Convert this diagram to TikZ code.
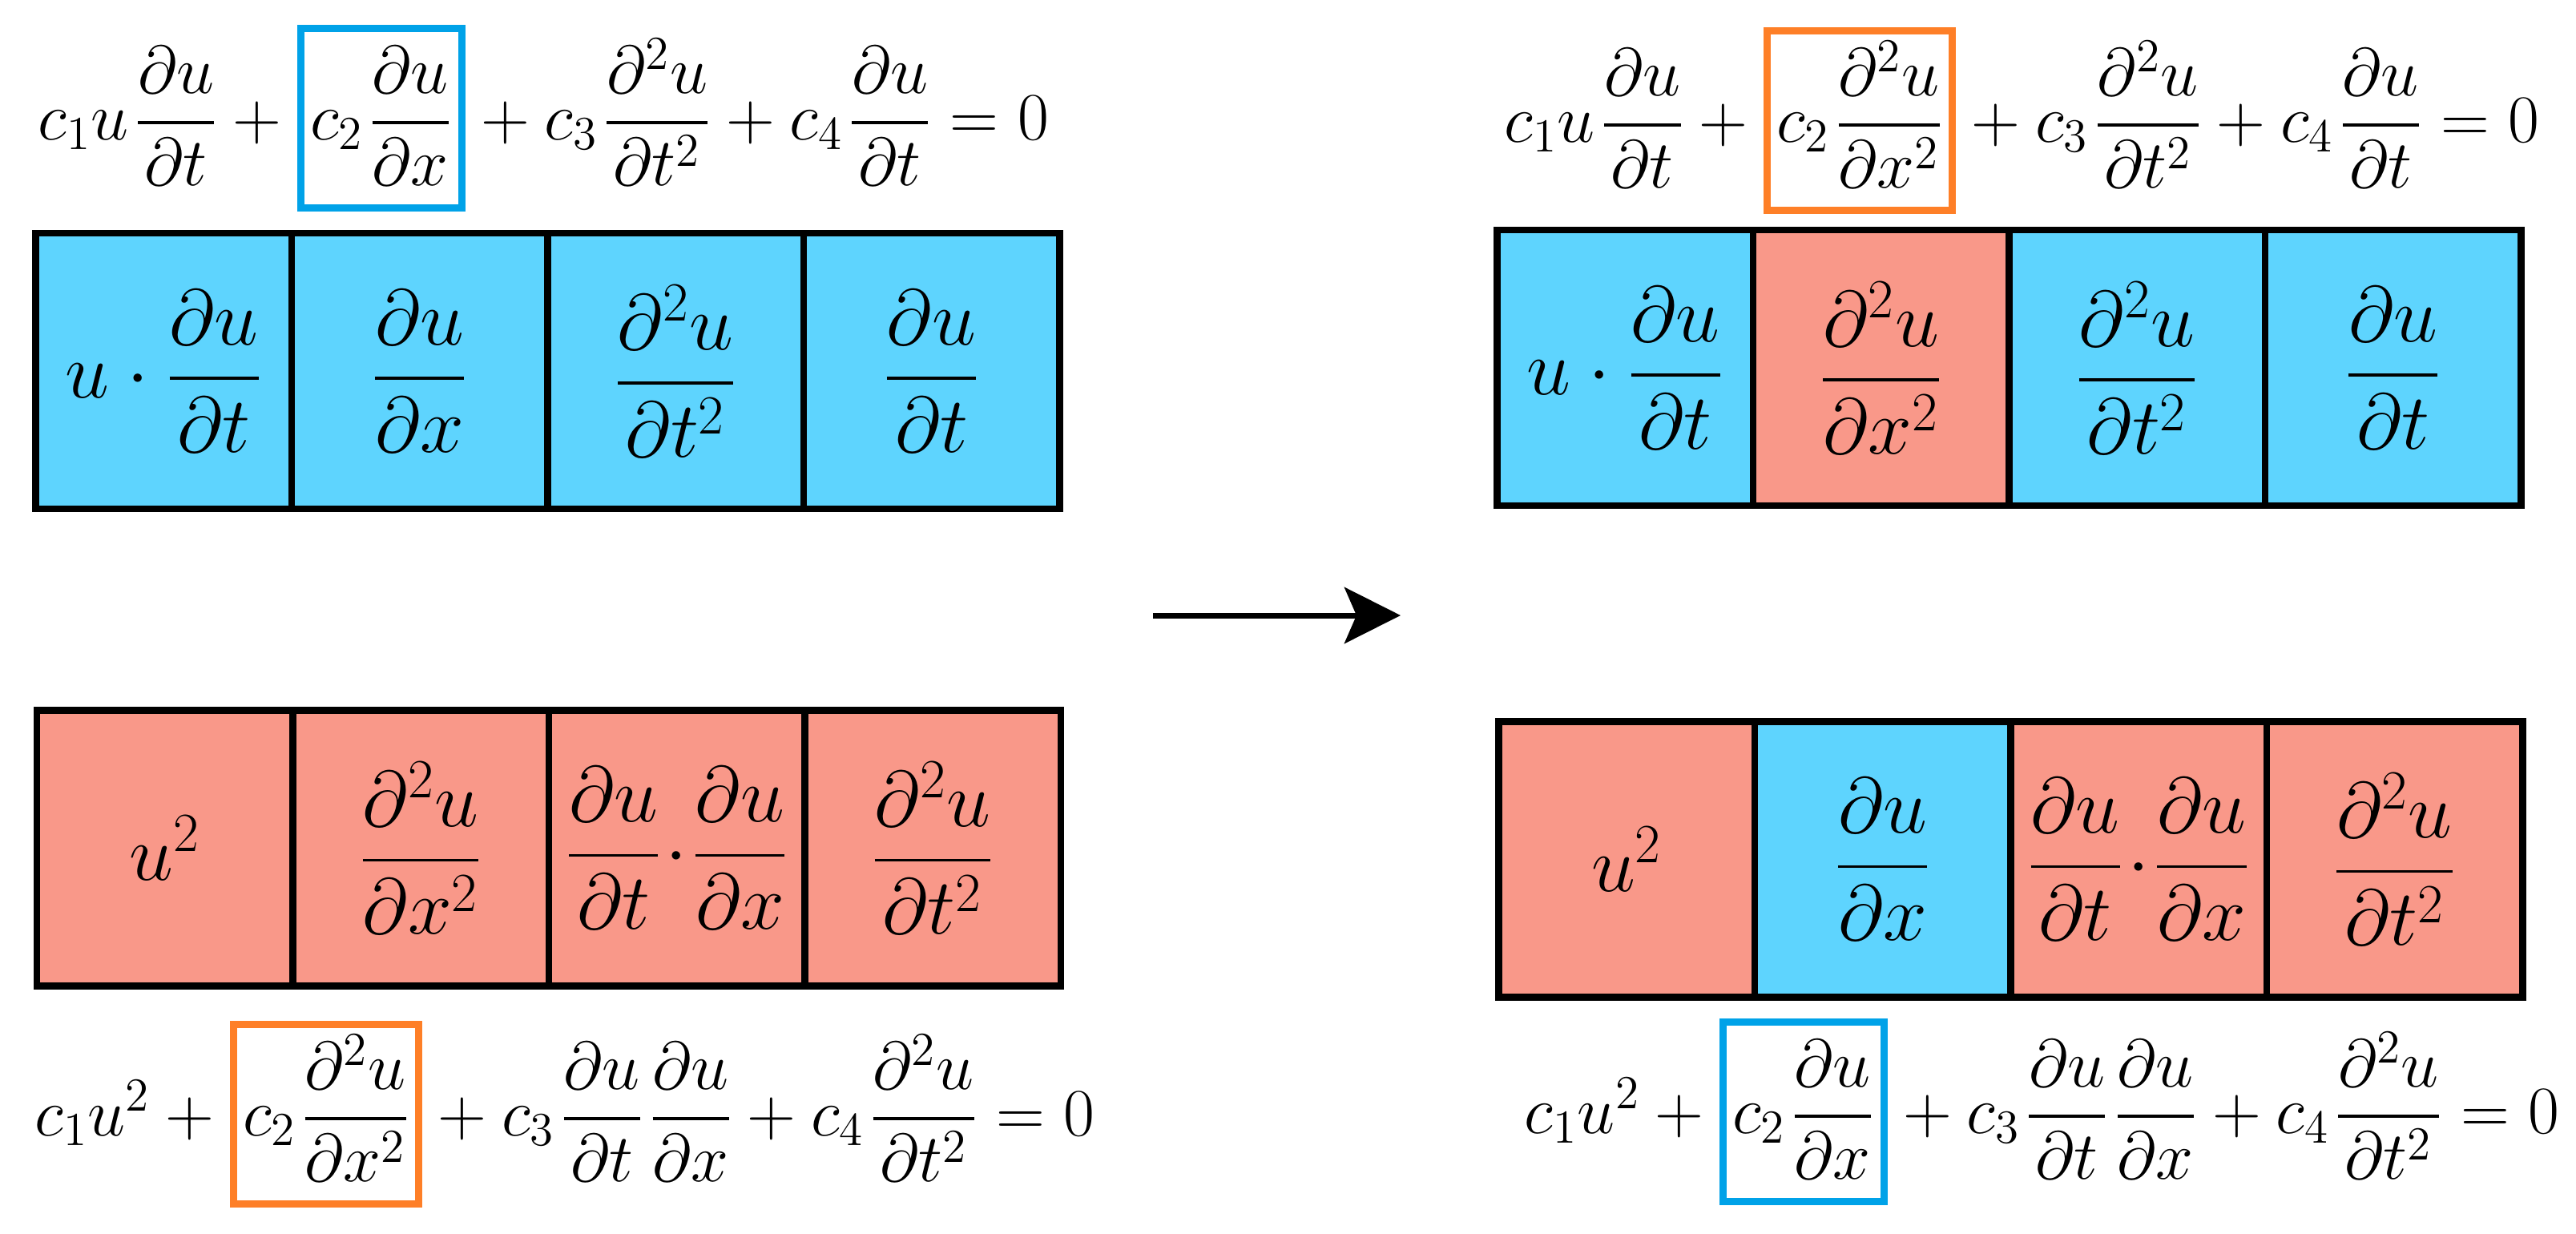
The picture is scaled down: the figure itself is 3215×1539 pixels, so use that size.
\RequirePackage{fix-cm}
\documentclass[tikz,border=0pt]{standalone}
\usepackage{amsmath}
\usetikzlibrary{arrows.meta,positioning}
\definecolor{cellblue}{RGB}{94,212,254}
\definecolor{cellred}{RGB}{249,152,137}
\definecolor{boxblue}{RGB}{0,162,232}
\definecolor{boxorange}{RGB}{254,127,39}
\newcommand{\pd}{\partial}
\newcommand{\kgap}{\mskip1.5mu}
\begin{document}
\begin{tikzpicture}[x=0.01cm,y=-0.01cm,
  cell/.style={draw=black, line width=0.085cm, minimum width=3.1925cm, minimum height=3.44cm,
    inner sep=0pt, outer sep=0pt, font=\fontsize{28}{34}\selectfont},
  bluecell/.style={cell, fill=cellblue},
  redcell/.style={cell, fill=cellred},
  eq/.style={inner sep=0pt, font=\fontsize{24}{30}\selectfont},
  hl/.style={eq, line width=0.09cm, inner xsep=0.12cm, inner ysep=0pt,
    text height=1.38cm, text depth=0.85cm},
  arrowline/.style={line width=0.07cm, -{Stealth[length=0.7cm,width=0.7cm,inset=0.15cm]}}
]
\useasboundingbox (0,0) rectangle (3215,1539);

% ---------- top left ----------
\node[eq, anchor=base west] (tlA) at (47,174) {$c_1u\kgap\dfrac{\pd u}{\pd t}+{}$};
\node[hl, draw=boxblue, anchor=base west] (tlB) at (tlA.base east) {$c_2\kgap\dfrac{\pd u}{\pd x}$};
\node[eq, anchor=base west] (tlC) at (tlB.base east) {${}+c_3\kgap\dfrac{\pd^2u}{\pd t^2}+c_4\kgap\dfrac{\pd u}{\pd t}=0$};

\node[bluecell, anchor=west] (tl1) at (44.5,463) {$u\cdot\dfrac{\pd u}{\pd t}$};
\node[bluecell, right=0pt of tl1] (tl2) {$\dfrac{\pd u}{\pd x}$};
\node[bluecell, right=0pt of tl2] (tl3) {$\dfrac{\pd^2u}{\pd t^2}$};
\node[bluecell, right=0pt of tl3] (tl4) {$\dfrac{\pd u}{\pd t}$};

% ---------- top right ----------
\node[eq, anchor=base west] (trA) at (1877,177) {$c_1u\kgap\dfrac{\pd u}{\pd t}+{}$};
\node[hl, draw=boxorange, anchor=base west] (trB) at (trA.base east) {$c_2\kgap\dfrac{\pd^2u}{\pd x^2}$};
\node[eq, anchor=base west] (trC) at (trB.base east) {${}+c_3\kgap\dfrac{\pd^2u}{\pd t^2}+c_4\kgap\dfrac{\pd u}{\pd t}=0$};

\node[bluecell, anchor=west] (tr1) at (1868.5,459) {$u\cdot\dfrac{\pd u}{\pd t}$};
\node[redcell, right=0pt of tr1] (tr2) {$\dfrac{\pd^2u}{\pd x^2}$};
\node[bluecell, right=0pt of tr2] (tr3) {$\dfrac{\pd^2u}{\pd t^2}$};
\node[bluecell, right=0pt of tr3] (tr4) {$\dfrac{\pd u}{\pd t}$};

% ---------- arrow ----------
\coordinate (arrowStart) at (1439,768);
\coordinate (arrowEnd) at (1748,768);
\draw[arrowline] (arrowStart) -- (arrowEnd);

% ---------- bottom left ----------
\node[redcell, anchor=west] (bl1) at (46,1058.5) {$u^2$};
\node[redcell, right=0pt of bl1] (bl2) {$\dfrac{\pd^2u}{\pd x^2}$};
\node[redcell, right=0pt of bl2] (bl3) {$\dfrac{\pd u}{\pd t}\!\cdot\!\dfrac{\pd u}{\pd x}$};
\node[redcell, right=0pt of bl3] (bl4) {$\dfrac{\pd^2u}{\pd t^2}$};

\node[eq, anchor=base west] (blA) at (43,1417) {$c_1u^2+{}$};
\node[hl, draw=boxorange, anchor=base west] (blB) at (blA.base east) {$c_2\kgap\dfrac{\pd^2u}{\pd x^2}$};
\node[eq, anchor=base west] (blC) at (blB.base east) {${}+c_3\kgap\dfrac{\pd u}{\pd t}\kgap\dfrac{\pd u}{\pd x}+c_4\kgap\dfrac{\pd^2u}{\pd t^2}=0$};

% ---------- bottom right ----------
\node[redcell, anchor=west] (br1) at (1870.5,1072.5) {$u^2$};
\node[bluecell, right=0pt of br1] (br2) {$\dfrac{\pd u}{\pd x}$};
\node[redcell, right=0pt of br2] (br3) {$\dfrac{\pd u}{\pd t}\!\cdot\!\dfrac{\pd u}{\pd x}$};
\node[redcell, right=0pt of br3] (br4) {$\dfrac{\pd^2u}{\pd t^2}$};

\node[eq, anchor=base west] (brA) at (1902,1414) {$c_1u^2+{}$};
\node[hl, draw=boxblue, anchor=base west] (brB) at (brA.base east) {$c_2\kgap\dfrac{\pd u}{\pd x}$};
\node[eq, anchor=base west] (brC) at (brB.base east) {${}+c_3\kgap\dfrac{\pd u}{\pd t}\kgap\dfrac{\pd u}{\pd x}+c_4\kgap\dfrac{\pd^2u}{\pd t^2}=0$};
\end{tikzpicture}
\end{document}
